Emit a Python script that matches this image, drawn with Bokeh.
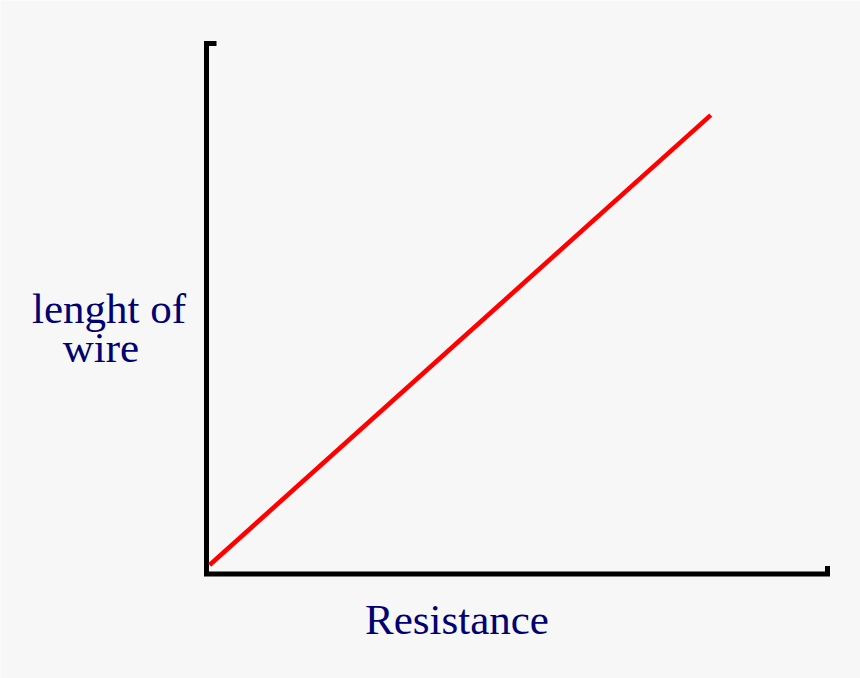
from bokeh.plotting import figure
from bokeh.models import Range1d
from bokeh.core.properties import value
from bokeh.embed import file_html
from bokeh.resources import INLINE

# data
resistance = [0.05, 8.12]
wire_length = [0.17, 8.65]
x_title = "Resistance"
y_title_lines = ["lenght of", "wire"]
x_max = 10
y_max = 10

BG = "#f7f7f7"
TXT = "#000070"
FONT = "Liberation Serif"

W, H = 860, 678
# pixel placement of the plotting area (origin and axis ends)
ox, oy = 206.0, 573.5
ex, ey = 827.0, 43.0
sx = (ex - ox) / x_max
sy = (oy - ey) / y_max

p = figure(width=W, height=H, output_backend="svg", toolbar_location=None,
           x_range=Range1d(-ox / sx, (W - ox) / sx),
           y_range=Range1d(-(H - oy) / sy, oy / sy),
           min_border=0)
p.background_fill_color = BG
p.border_fill_color = BG
p.outline_line_color = None
p.grid.visible = False
p.axis.visible = False

# axes drawn as an L with small end stubs
tick_x = 10 / sx
tick_y = 8 / sy
p.line([tick_x, 0, 0, x_max, x_max], [y_max, y_max, 0, 0, tick_y],
       line_color="black", line_width=5, line_join="miter")

p.line(resistance, wire_length, line_color="#ff0000", line_width=4.6)

p.text(x=[(456.5 - ox) / sx], y=[(oy - 619) / sy], text=[x_title],
       text_align="center", text_baseline="alphabetic",
       text_font=value(FONT), text_font_size="43px", text_color=TXT)
p.text(x=[(108.5 - ox) / sx, (100.5 - ox) / sx],
       y=[(oy - 308) / sy, (oy - 347) / sy], text=y_title_lines,
       text_align="center", text_baseline="alphabetic",
       text_font=value(FONT), text_font_size="43px", text_color=TXT)

open("out.html", "w").write(file_html(p, INLINE))
